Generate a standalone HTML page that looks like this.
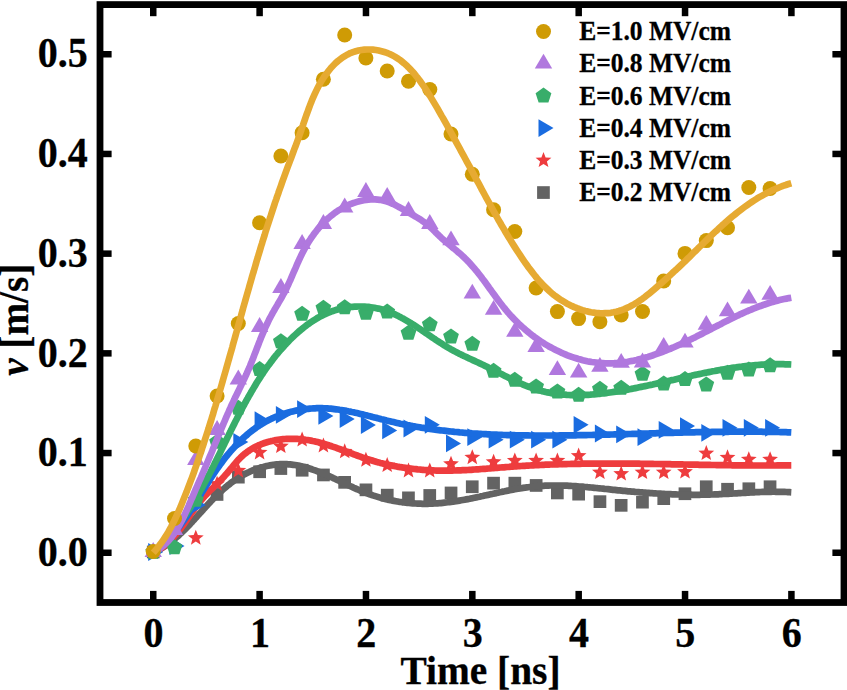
<!DOCTYPE html>
<html><head><meta charset="utf-8"><style>
html,body{margin:0;padding:0;background:#fff;}
svg{display:block;}
text{font-family:"Liberation Serif",serif;font-weight:bold;fill:#000;stroke:#000;stroke-width:0.3px;}
</style></head><body>
<svg width="847" height="690" viewBox="0 0 847 690">
<g><rect x="146.9" y="545.6" width="12.7" height="12.7" fill="#636363"/>
<rect x="210.7" y="488.1" width="12.7" height="12.7" fill="#636363"/>
<rect x="232.0" y="470.8" width="12.7" height="12.7" fill="#636363"/>
<rect x="253.3" y="465.4" width="12.7" height="12.7" fill="#636363"/>
<rect x="274.5" y="462.2" width="12.7" height="12.7" fill="#636363"/>
<rect x="295.8" y="463.9" width="12.7" height="12.7" fill="#636363"/>
<rect x="317.1" y="468.6" width="12.7" height="12.7" fill="#636363"/>
<rect x="338.3" y="476.0" width="12.7" height="12.7" fill="#636363"/>
<rect x="359.6" y="483.5" width="12.7" height="12.7" fill="#636363"/>
<rect x="380.9" y="488.8" width="12.7" height="12.7" fill="#636363"/>
<rect x="402.1" y="491.5" width="12.7" height="12.7" fill="#636363"/>
<rect x="423.4" y="489.1" width="12.7" height="12.7" fill="#636363"/>
<rect x="444.7" y="486.6" width="12.7" height="12.7" fill="#636363"/>
<rect x="465.9" y="480.4" width="12.7" height="12.7" fill="#636363"/>
<rect x="487.2" y="476.8" width="12.7" height="12.7" fill="#636363"/>
<rect x="508.5" y="476.8" width="12.7" height="12.7" fill="#636363"/>
<rect x="529.8" y="479.1" width="12.7" height="12.7" fill="#636363"/>
<rect x="551.0" y="486.6" width="12.7" height="12.7" fill="#636363"/>
<rect x="572.3" y="487.8" width="12.7" height="12.7" fill="#636363"/>
<rect x="593.6" y="495.3" width="12.7" height="12.7" fill="#636363"/>
<rect x="614.8" y="499.0" width="12.7" height="12.7" fill="#636363"/>
<rect x="636.1" y="495.8" width="12.7" height="12.7" fill="#636363"/>
<rect x="657.4" y="492.3" width="12.7" height="12.7" fill="#636363"/>
<rect x="678.6" y="487.4" width="12.7" height="12.7" fill="#636363"/>
<rect x="699.9" y="480.4" width="12.7" height="12.7" fill="#636363"/>
<rect x="721.2" y="482.9" width="12.7" height="12.7" fill="#636363"/>
<rect x="742.5" y="482.4" width="12.7" height="12.7" fill="#636363"/>
<rect x="763.7" y="480.4" width="12.7" height="12.7" fill="#636363"/>
<path d="M153.3,552.8 154.9,552.0 156.4,551.2 157.9,550.4 159.4,549.6 160.9,548.7 162.4,547.8 163.8,546.9 165.2,546.0 166.6,545.0 168.0,544.1 169.4,543.1 170.7,542.1 172.0,541.0 173.4,540.0 174.6,538.9 175.9,537.8 177.2,536.7 178.5,535.6 179.7,534.4 180.9,533.3 182.1,532.1 183.3,531.0 184.5,529.8 185.7,528.6 186.9,527.4 188.1,526.2 189.3,524.9 190.4,523.7 191.6,522.5 192.7,521.2 193.9,520.0 195.0,518.7 196.2,517.5 197.3,516.2 198.4,514.9 199.6,513.7 200.7,512.4 201.8,511.2 203.0,509.9 204.1,508.6 205.3,507.4 206.4,506.1 207.6,504.9 208.7,503.6 209.9,502.4 211.1,501.1 212.2,499.9 213.4,498.7 214.6,497.5 215.8,496.3 217.0,495.1 218.2,493.9 219.5,492.8 220.7,491.6 222.0,490.5 223.2,489.3 224.5,488.2 225.8,487.1 227.1,486.0 228.4,484.9 229.8,483.9 231.1,482.8 232.5,481.8 233.8,480.8 235.2,479.8 236.7,478.9 238.1,478.0 239.5,477.1 241.0,476.2 242.5,475.3 244.0,474.5 245.5,473.7 247.1,472.9 248.7,472.2 250.2,471.5 251.8,470.8 253.4,470.1 255.1,469.5 256.7,468.9 258.3,468.4 260.0,467.8 261.6,467.3 263.3,466.9 265.0,466.4 266.6,466.0 268.3,465.7 270.0,465.4 271.7,465.1 273.4,464.8 275.1,464.6 276.7,464.4 278.4,464.3 280.1,464.2 281.8,464.1 283.5,464.1 285.1,464.1 286.8,464.2 288.4,464.3 290.1,464.4 291.7,464.6 293.4,464.8 295.0,465.0 296.6,465.3 298.3,465.6 299.9,465.9 301.5,466.3 303.1,466.7 304.7,467.1 306.3,467.5 307.9,468.0 309.5,468.5 311.1,469.0 312.7,469.6 314.3,470.1 315.9,470.7 317.5,471.3 319.0,471.9 320.6,472.5 322.2,473.2 323.8,473.9 325.3,474.5 326.9,475.2 328.5,475.9 330.1,476.6 331.6,477.3 333.2,478.1 334.8,478.8 336.3,479.5 337.9,480.3 339.5,481.0 341.0,481.8 342.6,482.5 344.2,483.3 345.8,484.0 347.3,484.7 348.9,485.5 350.5,486.2 352.1,486.9 353.6,487.7 355.2,488.4 356.8,489.1 358.4,489.8 360.0,490.5 361.6,491.1 363.2,491.8 364.8,492.4 366.4,493.0 368.0,493.7 369.6,494.3 371.2,494.8 372.8,495.4 374.4,495.9 376.1,496.4 377.7,496.9 379.3,497.4 380.9,497.9 382.6,498.3 384.2,498.8 385.9,499.2 387.5,499.6 389.2,499.9 390.8,500.3 392.5,500.6 394.1,500.9 395.8,501.2 397.4,501.5 399.1,501.8 400.8,502.0 402.4,502.3 404.1,502.5 405.8,502.7 407.4,502.9 409.1,503.0 410.8,503.2 412.5,503.3 414.1,503.4 415.8,503.5 417.5,503.6 419.2,503.7 420.8,503.7 422.5,503.8 424.2,503.8 425.9,503.8 427.6,503.8 429.2,503.7 430.9,503.7 432.6,503.6 434.3,503.5 436.0,503.4 437.7,503.3 439.3,503.2 441.0,503.1 442.7,502.9 444.4,502.7 446.1,502.5 447.7,502.3 449.4,502.1 451.1,501.9 452.8,501.7 454.4,501.4 456.1,501.2 457.8,500.9 459.5,500.6 461.2,500.3 462.8,500.0 464.5,499.7 466.2,499.4 467.9,499.1 469.5,498.8 471.2,498.4 472.9,498.1 474.6,497.7 476.2,497.4 477.9,497.0 479.6,496.7 481.2,496.3 482.9,496.0 484.6,495.6 486.3,495.2 487.9,494.9 489.6,494.5 491.3,494.1 493.0,493.8 494.6,493.4 496.3,493.1 498.0,492.7 499.7,492.3 501.4,492.0 503.0,491.6 504.7,491.3 506.4,490.9 508.1,490.6 509.7,490.3 511.4,490.0 513.1,489.6 514.8,489.3 516.5,489.0 518.1,488.8 519.8,488.5 521.5,488.2 523.2,487.9 524.9,487.7 526.6,487.4 528.2,487.2 529.9,487.0 531.6,486.8 533.3,486.6 535.0,486.4 536.7,486.3 538.4,486.1 540.0,486.0 541.7,485.9 543.4,485.8 545.1,485.7 546.8,485.6 548.5,485.6 550.2,485.5 551.9,485.5 553.6,485.5 555.3,485.5 557.0,485.5 558.7,485.5 560.4,485.5 562.1,485.6 563.8,485.6 565.5,485.7 567.2,485.7 568.9,485.8 570.6,485.9 572.3,486.0 574.0,486.1 575.7,486.2 577.4,486.3 579.1,486.5 580.8,486.6 582.5,486.7 584.2,486.9 585.9,487.0 587.6,487.2 589.3,487.3 591.0,487.5 592.7,487.6 594.4,487.8 596.1,488.0 597.8,488.2 599.5,488.3 601.2,488.5 602.9,488.7 604.6,488.9 606.3,489.0 608.0,489.2 609.7,489.4 611.4,489.6 613.1,489.8 614.8,489.9 616.4,490.1 618.1,490.3 619.8,490.4 621.5,490.6 623.2,490.8 624.9,490.9 626.6,491.1 628.3,491.3 630.0,491.4 631.7,491.6 633.4,491.7 635.1,491.9 636.8,492.0 638.5,492.1 640.2,492.3 641.9,492.4 643.6,492.6 645.2,492.7 646.9,492.8 648.6,492.9 650.3,493.1 652.0,493.2 653.7,493.3 655.4,493.4 657.1,493.5 658.8,493.6 660.5,493.7 662.2,493.8 663.9,493.9 665.5,494.0 667.2,494.1 668.9,494.1 670.6,494.2 672.3,494.3 674.0,494.3 675.7,494.4 677.4,494.5 679.1,494.5 680.8,494.6 682.5,494.6 684.2,494.6 685.9,494.7 687.6,494.7 689.2,494.7 690.9,494.7 692.6,494.8 694.3,494.8 696.0,494.8 697.7,494.8 699.4,494.8 701.1,494.7 702.8,494.7 704.5,494.7 706.2,494.7 707.9,494.6 709.6,494.6 711.3,494.5 713.0,494.5 714.7,494.4 716.4,494.4 718.1,494.3 719.8,494.2 721.5,494.1 723.2,494.0 724.9,494.0 726.6,493.9 728.3,493.8 730.0,493.7 731.7,493.6 733.4,493.5 735.2,493.4 736.9,493.3 738.6,493.2 740.3,493.1 742.0,493.0 743.7,492.9 745.4,492.8 747.1,492.7 748.8,492.6 750.5,492.5 752.2,492.4 753.9,492.3 755.6,492.2 757.3,492.1 759.0,492.1 760.7,492.0 762.4,491.9 764.1,491.9 765.8,491.8 767.5,491.8 769.2,491.8 770.9,491.8 772.6,491.7 774.3,491.7 776.0,491.8 777.7,491.8 779.4,491.8 781.1,491.8 782.8,491.9 784.5,491.9 786.2,492.0 787.9,492.1 789.6,492.2 791.3,492.3" fill="none" stroke="#636363" stroke-width="6.7" stroke-linejoin="round"/>
<polygon points="153.2,543.7 155.4,549.1 161.1,549.4 156.7,553.1 158.1,558.7 153.2,555.6 148.4,558.7 149.8,553.1 145.4,549.4 151.1,549.1" fill="#EE3C3E"/>
<polygon points="195.8,529.7 197.9,535.1 203.7,535.4 199.2,539.1 200.7,544.7 195.8,541.6 190.9,544.7 192.4,539.1 187.9,535.4 193.7,535.1" fill="#EE3C3E"/>
<polygon points="217.1,475.7 219.2,481.1 225.0,481.4 220.5,485.1 221.9,490.7 217.1,487.6 212.2,490.7 213.6,485.1 209.2,481.4 214.9,481.1" fill="#EE3C3E"/>
<polygon points="238.3,462.4 240.4,467.8 246.2,468.1 241.8,471.8 243.2,477.4 238.3,474.3 233.5,477.4 234.9,471.8 230.4,468.1 236.2,467.8" fill="#EE3C3E"/>
<polygon points="259.6,444.4 261.7,449.8 267.5,450.1 263.0,453.8 264.5,459.4 259.6,456.3 254.7,459.4 256.2,453.8 251.7,450.1 257.5,449.8" fill="#EE3C3E"/>
<polygon points="280.9,438.0 283.0,443.4 288.8,443.7 284.3,447.4 285.7,453.0 280.9,449.9 276.0,453.0 277.4,447.4 273.0,443.7 278.8,443.4" fill="#EE3C3E"/>
<polygon points="302.1,431.6 304.3,437.0 310.0,437.3 305.6,441.0 307.0,446.6 302.1,443.5 297.3,446.6 298.7,441.0 294.2,437.3 300.0,437.0" fill="#EE3C3E"/>
<polygon points="323.4,437.4 325.5,442.8 331.3,443.1 326.8,446.8 328.3,452.4 323.4,449.3 318.5,452.4 320.0,446.8 315.5,443.1 321.3,442.8" fill="#EE3C3E"/>
<polygon points="344.7,443.3 346.8,448.7 352.6,449.0 348.1,452.7 349.6,458.3 344.7,455.2 339.8,458.3 341.3,452.7 336.8,449.0 342.6,448.7" fill="#EE3C3E"/>
<polygon points="365.9,451.8 368.1,457.2 373.8,457.5 369.4,461.2 370.8,466.8 365.9,463.7 361.1,466.8 362.5,461.2 358.1,457.5 363.8,457.2" fill="#EE3C3E"/>
<polygon points="387.2,457.1 389.3,462.5 395.1,462.8 390.6,466.5 392.1,472.1 387.2,469.0 382.3,472.1 383.8,466.5 379.3,462.8 385.1,462.5" fill="#EE3C3E"/>
<polygon points="408.5,462.4 410.6,467.8 416.4,468.1 411.9,471.8 413.4,477.4 408.5,474.3 403.6,477.4 405.1,471.8 400.6,468.1 406.4,467.8" fill="#EE3C3E"/>
<polygon points="429.8,462.4 431.9,467.8 437.7,468.1 433.2,471.8 434.6,477.4 429.8,474.3 424.9,477.4 426.3,471.8 421.9,468.1 427.6,467.8" fill="#EE3C3E"/>
<polygon points="451.0,455.7 453.1,461.1 458.9,461.4 454.5,465.1 455.9,470.7 451.0,467.6 446.2,470.7 447.6,465.1 443.1,461.4 448.9,461.1" fill="#EE3C3E"/>
<polygon points="472.3,449.2 474.4,454.6 480.2,454.9 475.7,458.6 477.2,464.2 472.3,461.1 467.4,464.2 468.9,458.6 464.4,454.9 470.2,454.6" fill="#EE3C3E"/>
<polygon points="493.6,453.7 495.7,459.1 501.5,459.4 497.0,463.1 498.4,468.7 493.6,465.6 488.7,468.7 490.1,463.1 485.7,459.4 491.5,459.1" fill="#EE3C3E"/>
<polygon points="514.8,452.4 517.0,457.8 522.7,458.1 518.3,461.8 519.7,467.4 514.8,464.3 510.0,467.4 511.4,461.8 506.9,458.1 512.7,457.8" fill="#EE3C3E"/>
<polygon points="536.1,452.4 538.2,457.8 544.0,458.1 539.5,461.8 541.0,467.4 536.1,464.3 531.2,467.4 532.7,461.8 528.2,458.1 534.0,457.8" fill="#EE3C3E"/>
<polygon points="557.4,452.4 559.5,457.8 565.3,458.1 560.8,461.8 562.3,467.4 557.4,464.3 552.5,467.4 554.0,461.8 549.5,458.1 555.3,457.8" fill="#EE3C3E"/>
<polygon points="578.6,447.5 580.8,452.9 586.5,453.2 582.1,456.9 583.5,462.5 578.6,459.4 573.8,462.5 575.2,456.9 570.8,453.2 576.5,452.9" fill="#EE3C3E"/>
<polygon points="599.9,464.1 602.0,469.5 607.8,469.8 603.3,473.5 604.8,479.1 599.9,476.0 595.0,479.1 596.5,473.5 592.0,469.8 597.8,469.5" fill="#EE3C3E"/>
<polygon points="621.2,465.6 623.3,471.0 629.1,471.3 624.6,475.0 626.1,480.6 621.2,477.5 616.3,480.6 617.8,475.0 613.3,471.3 619.1,471.0" fill="#EE3C3E"/>
<polygon points="642.5,464.1 644.6,469.5 650.4,469.8 645.9,473.5 647.3,479.1 642.5,476.0 637.6,479.1 639.0,473.5 634.6,469.8 640.3,469.5" fill="#EE3C3E"/>
<polygon points="663.7,464.1 665.8,469.5 671.6,469.8 667.2,473.5 668.6,479.1 663.7,476.0 658.9,479.1 660.3,473.5 655.8,469.8 661.6,469.5" fill="#EE3C3E"/>
<polygon points="685.0,463.6 687.1,469.0 692.9,469.3 688.4,473.0 689.9,478.6 685.0,475.5 680.1,478.6 681.6,473.0 677.1,469.3 682.9,469.0" fill="#EE3C3E"/>
<polygon points="706.3,445.1 708.4,450.5 714.2,450.8 709.7,454.5 711.1,460.1 706.3,457.0 701.4,460.1 702.8,454.5 698.4,450.8 704.2,450.5" fill="#EE3C3E"/>
<polygon points="727.5,449.3 729.7,454.7 735.4,455.0 731.0,458.7 732.4,464.3 727.5,461.2 722.7,464.3 724.1,458.7 719.6,455.0 725.4,454.7" fill="#EE3C3E"/>
<polygon points="748.8,451.2 750.9,456.6 756.7,456.9 752.2,460.6 753.7,466.2 748.8,463.1 743.9,466.2 745.4,460.6 740.9,456.9 746.7,456.6" fill="#EE3C3E"/>
<polygon points="770.1,451.2 772.2,456.6 778.0,456.9 773.5,460.6 775.0,466.2 770.1,463.1 765.2,466.2 766.7,460.6 762.2,456.9 768.0,456.6" fill="#EE3C3E"/>
<path d="M153.3,552.8 154.9,552.0 156.5,551.1 158.0,550.3 159.5,549.4 160.9,548.4 162.3,547.4 163.7,546.4 165.1,545.4 166.4,544.3 167.6,543.2 168.9,542.0 170.1,540.9 171.3,539.7 172.5,538.4 173.6,537.2 174.7,535.9 175.8,534.6 176.9,533.3 178.0,532.0 179.0,530.7 180.0,529.3 181.1,528.0 182.1,526.6 183.1,525.2 184.1,523.8 185.1,522.4 186.0,521.0 187.0,519.6 188.0,518.1 189.0,516.7 190.0,515.3 190.9,513.9 191.9,512.5 192.9,511.1 193.9,509.7 194.9,508.3 196.0,506.9 197.0,505.5 198.0,504.1 199.1,502.8 200.2,501.4 201.3,500.1 202.4,498.8 203.5,497.5 204.7,496.2 205.9,495.0 207.1,493.7 208.3,492.5 209.5,491.2 210.7,490.0 212.0,488.8 213.2,487.6 214.4,486.4 215.7,485.2 216.9,483.9 218.2,482.7 219.4,481.5 220.6,480.2 221.8,479.0 223.0,477.7 224.2,476.4 225.4,475.1 226.6,473.8 227.7,472.5 228.8,471.2 230.0,469.8 231.1,468.4 232.2,467.1 233.3,465.7 234.4,464.4 235.5,463.1 236.7,461.7 237.8,460.4 239.0,459.2 240.2,457.9 241.4,456.8 242.6,455.6 243.9,454.5 245.2,453.4 246.6,452.4 247.9,451.4 249.3,450.4 250.8,449.5 252.2,448.6 253.7,447.8 255.2,447.0 256.7,446.2 258.2,445.5 259.8,444.9 261.3,444.2 262.9,443.6 264.5,443.0 266.2,442.5 267.8,442.0 269.5,441.6 271.1,441.1 272.8,440.8 274.5,440.4 276.2,440.1 277.9,439.8 279.6,439.6 281.4,439.4 283.1,439.2 284.8,439.0 286.6,438.9 288.3,438.8 290.1,438.8 291.8,438.8 293.6,438.8 295.3,438.8 297.1,438.9 298.8,439.0 300.6,439.2 302.3,439.3 304.0,439.5 305.7,439.8 307.5,440.0 309.2,440.3 310.9,440.6 312.6,441.0 314.3,441.3 316.0,441.7 317.6,442.1 319.3,442.5 321.0,443.0 322.7,443.4 324.3,443.9 326.0,444.4 327.6,444.9 329.3,445.5 330.9,446.0 332.6,446.6 334.2,447.1 335.9,447.7 337.5,448.3 339.1,448.9 340.8,449.5 342.4,450.1 344.0,450.7 345.7,451.3 347.3,451.9 348.9,452.5 350.6,453.1 352.2,453.7 353.8,454.3 355.5,454.9 357.1,455.5 358.7,456.1 360.4,456.7 362.0,457.3 363.7,457.9 365.3,458.4 367.0,459.0 368.6,459.5 370.3,460.0 371.9,460.5 373.6,461.0 375.2,461.5 376.9,462.0 378.6,462.4 380.3,462.9 381.9,463.3 383.6,463.7 385.3,464.1 387.0,464.5 388.7,464.9 390.4,465.2 392.0,465.6 393.7,465.9 395.4,466.2 397.1,466.6 398.8,466.9 400.5,467.2 402.2,467.4 403.9,467.7 405.6,467.9 407.4,468.2 409.1,468.4 410.8,468.6 412.5,468.8 414.2,469.0 415.9,469.2 417.6,469.4 419.4,469.5 421.1,469.7 422.8,469.8 424.5,470.0 426.2,470.1 428.0,470.2 429.7,470.3 431.4,470.4 433.1,470.4 434.9,470.5 436.6,470.6 438.3,470.6 440.0,470.6 441.8,470.6 443.5,470.7 445.2,470.7 446.9,470.7 448.7,470.6 450.4,470.6 452.1,470.6 453.9,470.5 455.6,470.5 457.3,470.4 459.0,470.4 460.8,470.3 462.5,470.2 464.2,470.1 466.0,470.1 467.7,470.0 469.4,469.9 471.1,469.8 472.9,469.6 474.6,469.5 476.3,469.4 478.1,469.3 479.8,469.2 481.5,469.0 483.2,468.9 485.0,468.8 486.7,468.7 488.4,468.5 490.2,468.4 491.9,468.2 493.6,468.1 495.4,468.0 497.1,467.8 498.8,467.7 500.5,467.5 502.3,467.4 504.0,467.3 505.7,467.1 507.5,467.0 509.2,466.9 510.9,466.7 512.7,466.6 514.4,466.5 516.1,466.4 517.8,466.2 519.6,466.1 521.3,466.0 523.0,465.9 524.8,465.8 526.5,465.7 528.2,465.6 530.0,465.5 531.7,465.4 533.4,465.3 535.1,465.2 536.9,465.1 538.6,465.1 540.3,465.0 542.1,464.9 543.8,464.8 545.5,464.7 547.3,464.7 549.0,464.6 550.7,464.5 552.4,464.5 554.2,464.4 555.9,464.4 557.6,464.3 559.4,464.2 561.1,464.2 562.8,464.1 564.6,464.1 566.3,464.1 568.0,464.0 569.7,464.0 571.5,463.9 573.2,463.9 574.9,463.9 576.7,463.8 578.4,463.8 580.1,463.8 581.9,463.7 583.6,463.7 585.3,463.7 587.0,463.7 588.8,463.7 590.5,463.6 592.2,463.6 594.0,463.6 595.7,463.6 597.4,463.6 599.2,463.6 600.9,463.6 602.6,463.6 604.3,463.6 606.1,463.6 607.8,463.6 609.5,463.6 611.3,463.6 613.0,463.6 614.7,463.6 616.5,463.6 618.2,463.6 619.9,463.6 621.7,463.6 623.4,463.6 625.1,463.6 626.8,463.6 628.6,463.6 630.3,463.7 632.0,463.7 633.8,463.7 635.5,463.7 637.2,463.7 639.0,463.7 640.7,463.8 642.4,463.8 644.1,463.8 645.9,463.8 647.6,463.9 649.3,463.9 651.1,463.9 652.8,463.9 654.5,464.0 656.3,464.0 658.0,464.0 659.7,464.0 661.5,464.1 663.2,464.1 664.9,464.1 666.6,464.2 668.4,464.2 670.1,464.2 671.8,464.3 673.6,464.3 675.3,464.3 677.0,464.3 678.8,464.4 680.5,464.4 682.2,464.4 684.0,464.5 685.7,464.5 687.4,464.5 689.1,464.6 690.9,464.6 692.6,464.6 694.3,464.7 696.1,464.7 697.8,464.7 699.5,464.8 701.3,464.8 703.0,464.8 704.7,464.8 706.5,464.9 708.2,464.9 709.9,464.9 711.6,465.0 713.4,465.0 715.1,465.0 716.8,465.1 718.6,465.1 720.3,465.1 722.0,465.1 723.8,465.2 725.5,465.2 727.2,465.2 729.0,465.2 730.7,465.2 732.4,465.3 734.2,465.3 735.9,465.3 737.6,465.3 739.3,465.3 741.1,465.4 742.8,465.4 744.5,465.4 746.3,465.4 748.0,465.4 749.7,465.4 751.5,465.4 753.2,465.5 754.9,465.5 756.7,465.5 758.4,465.5 760.1,465.5 761.9,465.5 763.6,465.5 765.3,465.5 767.1,465.5 768.8,465.5 770.5,465.5 772.2,465.5 774.0,465.5 775.7,465.5 777.4,465.4 779.2,465.4 780.9,465.4 782.6,465.4 784.4,465.4 786.1,465.4 787.8,465.3 789.6,465.3 791.3,465.3" fill="none" stroke="#EE3C3E" stroke-width="6.7" stroke-linejoin="round"/>
<path d="M163.2,552.0L148.2,543.1L148.2,560.9Z" fill="#1A6CE0"/>
<path d="M184.5,546.0L169.5,537.1L169.5,554.9Z" fill="#1A6CE0"/>
<path d="M205.8,505.0L190.8,496.1L190.8,513.9Z" fill="#1A6CE0"/>
<path d="M248.3,442.0L233.3,433.1L233.3,450.9Z" fill="#1A6CE0"/>
<path d="M269.6,420.2L254.6,411.3L254.6,429.1Z" fill="#1A6CE0"/>
<path d="M290.9,414.9L275.9,406.0L275.9,423.8Z" fill="#1A6CE0"/>
<path d="M312.1,409.1L297.1,400.2L297.1,418.0Z" fill="#1A6CE0"/>
<path d="M333.4,415.9L318.4,407.0L318.4,424.8Z" fill="#1A6CE0"/>
<path d="M354.7,419.1L339.7,410.2L339.7,428.0Z" fill="#1A6CE0"/>
<path d="M375.9,425.1L360.9,416.2L360.9,434.0Z" fill="#1A6CE0"/>
<path d="M397.2,430.4L382.2,421.5L382.2,439.2Z" fill="#1A6CE0"/>
<path d="M418.5,428.5L403.5,419.6L403.5,437.4Z" fill="#1A6CE0"/>
<path d="M439.8,424.8L424.8,415.9L424.8,433.7Z" fill="#1A6CE0"/>
<path d="M461.0,443.4L446.0,434.5L446.0,452.2Z" fill="#1A6CE0"/>
<path d="M482.3,437.2L467.3,428.3L467.3,446.1Z" fill="#1A6CE0"/>
<path d="M503.6,439.7L488.6,430.8L488.6,448.6Z" fill="#1A6CE0"/>
<path d="M524.8,439.7L509.8,430.8L509.8,448.6Z" fill="#1A6CE0"/>
<path d="M546.1,439.7L531.1,430.8L531.1,448.6Z" fill="#1A6CE0"/>
<path d="M567.4,439.7L552.4,430.8L552.4,448.6Z" fill="#1A6CE0"/>
<path d="M588.6,424.8L573.6,415.9L573.6,433.7Z" fill="#1A6CE0"/>
<path d="M609.9,433.5L594.9,424.6L594.9,442.4Z" fill="#1A6CE0"/>
<path d="M631.2,434.3L616.2,425.4L616.2,443.2Z" fill="#1A6CE0"/>
<path d="M652.5,437.2L637.5,428.3L637.5,446.1Z" fill="#1A6CE0"/>
<path d="M673.7,429.8L658.7,420.9L658.7,438.7Z" fill="#1A6CE0"/>
<path d="M695.0,426.1L680.0,417.2L680.0,435.0Z" fill="#1A6CE0"/>
<path d="M716.3,432.8L701.3,423.9L701.3,441.7Z" fill="#1A6CE0"/>
<path d="M737.5,427.8L722.5,418.9L722.5,436.7Z" fill="#1A6CE0"/>
<path d="M758.8,427.8L743.8,418.9L743.8,436.7Z" fill="#1A6CE0"/>
<path d="M780.1,427.8L765.1,418.9L765.1,436.7Z" fill="#1A6CE0"/>
<path d="M153.3,552.7 154.7,551.7 156.1,550.6 157.5,549.5 158.9,548.4 160.2,547.2 161.5,546.1 162.8,544.9 164.1,543.7 165.4,542.5 166.6,541.3 167.8,540.0 169.0,538.8 170.2,537.5 171.4,536.2 172.5,534.9 173.7,533.6 174.8,532.2 175.9,530.9 177.0,529.5 178.1,528.1 179.2,526.8 180.2,525.4 181.3,524.0 182.3,522.5 183.3,521.1 184.4,519.7 185.4,518.2 186.4,516.8 187.4,515.3 188.4,513.8 189.3,512.4 190.3,510.9 191.3,509.4 192.2,507.9 193.2,506.4 194.2,504.9 195.1,503.4 196.1,501.9 197.0,500.4 197.9,498.8 198.9,497.3 199.8,495.8 200.8,494.3 201.7,492.7 202.7,491.2 203.6,489.7 204.6,488.2 205.5,486.6 206.5,485.1 207.4,483.6 208.4,482.1 209.3,480.5 210.3,479.0 211.3,477.5 212.3,476.0 213.3,474.5 214.3,473.0 215.3,471.5 216.3,470.0 217.3,468.5 218.4,467.0 219.4,465.6 220.5,464.1 221.5,462.7 222.6,461.2 223.7,459.8 224.8,458.3 225.9,456.9 227.1,455.5 228.2,454.1 229.3,452.8 230.5,451.4 231.7,450.0 232.9,448.7 234.1,447.4 235.3,446.0 236.5,444.7 237.7,443.5 239.0,442.2 240.2,440.9 241.5,439.7 242.8,438.5 244.1,437.3 245.4,436.1 246.8,435.0 248.1,433.8 249.4,432.7 250.8,431.6 252.2,430.5 253.6,429.5 255.0,428.5 256.4,427.4 257.9,426.5 259.3,425.5 260.8,424.6 262.3,423.7 263.7,422.8 265.3,421.9 266.8,421.1 268.3,420.3 269.9,419.5 271.4,418.8 273.0,418.0 274.6,417.3 276.2,416.7 277.8,416.0 279.4,415.4 281.0,414.8 282.7,414.2 284.3,413.7 286.0,413.2 287.6,412.7 289.3,412.2 291.0,411.8 292.7,411.4 294.4,411.0 296.1,410.6 297.8,410.3 299.5,410.0 301.2,409.7 302.9,409.4 304.7,409.2 306.4,409.0 308.1,408.8 309.9,408.6 311.6,408.5 313.3,408.4 315.1,408.3 316.8,408.2 318.6,408.2 320.3,408.2 322.1,408.2 323.8,408.3 325.6,408.4 327.3,408.4 329.1,408.6 330.8,408.7 332.6,408.9 334.3,409.1 336.1,409.3 337.8,409.5 339.6,409.8 341.3,410.0 343.0,410.3 344.8,410.6 346.5,410.9 348.3,411.3 350.0,411.6 351.7,412.0 353.5,412.3 355.2,412.7 357.0,413.1 358.7,413.5 360.4,413.9 362.2,414.3 363.9,414.8 365.7,415.2 367.4,415.6 369.1,416.1 370.9,416.5 372.6,417.0 374.4,417.4 376.1,417.8 377.8,418.3 379.6,418.7 381.3,419.2 383.0,419.6 384.8,420.0 386.5,420.5 388.3,420.9 390.0,421.3 391.7,421.7 393.5,422.1 395.2,422.5 397.0,422.9 398.7,423.3 400.4,423.7 402.2,424.0 403.9,424.4 405.7,424.7 407.4,425.1 409.1,425.4 410.9,425.7 412.6,426.1 414.4,426.4 416.1,426.7 417.8,427.0 419.6,427.3 421.3,427.6 423.1,427.8 424.8,428.1 426.6,428.4 428.3,428.6 430.0,428.9 431.8,429.2 433.5,429.4 435.3,429.6 437.0,429.9 438.8,430.1 440.5,430.3 442.3,430.5 444.0,430.7 445.8,430.9 447.5,431.1 449.3,431.3 451.0,431.5 452.7,431.7 454.5,431.9 456.2,432.0 458.0,432.2 459.7,432.4 461.5,432.5 463.2,432.7 465.0,432.8 466.7,433.0 468.5,433.1 470.2,433.2 472.0,433.4 473.7,433.5 475.5,433.6 477.2,433.7 479.0,433.8 480.7,433.9 482.5,434.0 484.2,434.1 486.0,434.2 487.8,434.3 489.5,434.4 491.3,434.5 493.0,434.6 494.8,434.6 496.5,434.7 498.3,434.8 500.0,434.8 501.8,434.9 503.5,435.0 505.3,435.0 507.1,435.1 508.8,435.1 510.6,435.2 512.3,435.2 514.1,435.2 515.8,435.3 517.6,435.3 519.3,435.3 521.1,435.4 522.9,435.4 524.6,435.4 526.4,435.4 528.1,435.4 529.9,435.5 531.7,435.5 533.4,435.5 535.2,435.5 536.9,435.5 538.7,435.5 540.5,435.5 542.2,435.5 544.0,435.5 545.7,435.5 547.5,435.5 549.3,435.5 551.0,435.5 552.8,435.5 554.6,435.5 556.3,435.5 558.1,435.5 559.9,435.4 561.6,435.4 563.4,435.4 565.1,435.4 566.9,435.4 568.7,435.3 570.4,435.3 572.2,435.3 574.0,435.3 575.7,435.3 577.5,435.2 579.3,435.2 581.0,435.2 582.8,435.1 584.6,435.1 586.3,435.1 588.1,435.0 589.9,435.0 591.6,435.0 593.4,434.9 595.2,434.9 596.9,434.8 598.7,434.8 600.5,434.8 602.2,434.7 604.0,434.7 605.8,434.6 607.6,434.6 609.3,434.6 611.1,434.5 612.9,434.5 614.6,434.4 616.4,434.4 618.2,434.3 619.9,434.3 621.7,434.2 623.5,434.2 625.2,434.1 627.0,434.1 628.8,434.0 630.6,434.0 632.3,433.9 634.1,433.9 635.9,433.8 637.6,433.8 639.4,433.7 641.2,433.7 642.9,433.6 644.7,433.6 646.5,433.5 648.3,433.5 650.0,433.4 651.8,433.4 653.6,433.3 655.3,433.3 657.1,433.2 658.9,433.2 660.6,433.1 662.4,433.1 664.2,433.0 666.0,433.0 667.7,432.9 669.5,432.9 671.3,432.8 673.0,432.8 674.8,432.7 676.6,432.7 678.3,432.7 680.1,432.6 681.9,432.6 683.7,432.5 685.4,432.5 687.2,432.4 689.0,432.4 690.7,432.4 692.5,432.3 694.3,432.3 696.0,432.2 697.8,432.2 699.6,432.2 701.3,432.1 703.1,432.1 704.9,432.1 706.7,432.0 708.4,432.0 710.2,432.0 712.0,431.9 713.7,431.9 715.5,431.9 717.3,431.9 719.0,431.8 720.8,431.8 722.6,431.8 724.3,431.8 726.1,431.8 727.9,431.8 729.6,431.7 731.4,431.7 733.2,431.7 734.9,431.7 736.7,431.7 738.5,431.7 740.2,431.7 742.0,431.7 743.7,431.7 745.5,431.7 747.3,431.7 749.0,431.7 750.8,431.7 752.6,431.7 754.3,431.7 756.1,431.7 757.9,431.7 759.6,431.7 761.4,431.7 763.1,431.8 764.9,431.8 766.7,431.8 768.4,431.8 770.2,431.9 771.9,431.9 773.7,431.9 775.5,432.0 777.2,432.0 779.0,432.0 780.7,432.1 782.5,432.1 784.3,432.2 786.0,432.2 787.8,432.3 789.5,432.3 791.3,432.4" fill="none" stroke="#1A6CE0" stroke-width="6.7" stroke-linejoin="round"/>
<polygon points="153.2,543.7 161.1,549.4 158.1,558.7 148.4,558.7 145.4,549.4" fill="#38AD6A"/>
<polygon points="174.5,539.2 182.4,544.9 179.4,554.2 169.6,554.2 166.6,544.9" fill="#38AD6A"/>
<polygon points="195.8,491.7 203.7,497.4 200.7,506.7 190.9,506.7 187.9,497.4" fill="#38AD6A"/>
<polygon points="217.1,433.7 225.0,439.4 221.9,448.7 212.2,448.7 209.2,439.4" fill="#38AD6A"/>
<polygon points="238.3,399.7 246.2,405.4 243.2,414.7 233.5,414.7 230.4,405.4" fill="#38AD6A"/>
<polygon points="259.6,361.0 267.5,366.7 264.5,376.0 254.7,376.0 251.7,366.7" fill="#38AD6A"/>
<polygon points="280.9,333.3 288.8,339.0 285.7,348.3 276.0,348.3 273.0,339.0" fill="#38AD6A"/>
<polygon points="302.1,305.7 310.0,311.4 307.0,320.7 297.3,320.7 294.2,311.4" fill="#38AD6A"/>
<polygon points="323.4,299.7 331.3,305.4 328.3,314.7 318.5,314.7 315.5,305.4" fill="#38AD6A"/>
<polygon points="344.7,299.3 352.6,305.0 349.6,314.3 339.8,314.3 336.8,305.0" fill="#38AD6A"/>
<polygon points="365.9,304.7 373.8,310.4 370.8,319.7 361.1,319.7 358.1,310.4" fill="#38AD6A"/>
<polygon points="387.2,303.6 395.1,309.3 392.1,318.6 382.3,318.6 379.3,309.3" fill="#38AD6A"/>
<polygon points="408.5,324.8 416.4,330.5 413.4,339.8 403.6,339.8 400.6,330.5" fill="#38AD6A"/>
<polygon points="429.8,316.3 437.7,322.0 434.6,331.3 424.9,331.3 421.9,322.0" fill="#38AD6A"/>
<polygon points="451.0,328.4 458.9,334.1 455.9,343.4 446.2,343.4 443.1,334.1" fill="#38AD6A"/>
<polygon points="472.3,335.7 480.2,341.4 477.2,350.7 467.4,350.7 464.4,341.4" fill="#38AD6A"/>
<polygon points="493.6,362.7 501.5,368.4 498.4,377.7 488.7,377.7 485.7,368.4" fill="#38AD6A"/>
<polygon points="514.8,371.7 522.7,377.4 519.7,386.7 510.0,386.7 506.9,377.4" fill="#38AD6A"/>
<polygon points="536.1,378.4 544.0,384.1 541.0,393.4 531.2,393.4 528.2,384.1" fill="#38AD6A"/>
<polygon points="557.4,383.4 565.3,389.1 562.3,398.4 552.5,398.4 549.5,389.1" fill="#38AD6A"/>
<polygon points="578.6,386.7 586.5,392.4 583.5,401.7 573.8,401.7 570.8,392.4" fill="#38AD6A"/>
<polygon points="599.9,380.7 607.8,386.4 604.8,395.7 595.0,395.7 592.0,386.4" fill="#38AD6A"/>
<polygon points="621.2,379.7 629.1,385.4 626.1,394.7 616.3,394.7 613.3,385.4" fill="#38AD6A"/>
<polygon points="642.5,365.8 650.4,371.5 647.3,380.8 637.6,380.8 634.6,371.5" fill="#38AD6A"/>
<polygon points="663.7,375.4 671.6,381.1 668.6,390.4 658.9,390.4 655.8,381.1" fill="#38AD6A"/>
<polygon points="685.0,371.1 692.9,376.8 689.9,386.1 680.1,386.1 677.1,376.8" fill="#38AD6A"/>
<polygon points="706.3,376.4 714.2,382.1 711.1,391.4 701.4,391.4 698.4,382.1" fill="#38AD6A"/>
<polygon points="727.5,364.8 735.4,370.5 732.4,379.8 722.7,379.8 719.6,370.5" fill="#38AD6A"/>
<polygon points="748.8,361.6 756.7,367.3 753.7,376.6 743.9,376.6 740.9,367.3" fill="#38AD6A"/>
<polygon points="770.1,357.3 778.0,363.0 775.0,372.3 765.2,372.3 762.2,363.0" fill="#38AD6A"/>
<path d="M153.3,552.7 154.8,551.4 156.2,550.0 157.7,548.6 159.1,547.2 160.5,545.8 161.9,544.3 163.2,542.9 164.6,541.4 165.9,540.0 167.2,538.5 168.5,537.0 169.8,535.5 171.1,534.0 172.3,532.4 173.6,530.9 174.8,529.4 176.0,527.8 177.2,526.3 178.4,524.7 179.6,523.1 180.8,521.5 181.9,519.9 183.1,518.3 184.2,516.7 185.3,515.1 186.4,513.5 187.5,511.8 188.6,510.2 189.6,508.5 190.7,506.9 191.8,505.2 192.8,503.5 193.8,501.8 194.9,500.1 195.9,498.5 196.9,496.8 197.9,495.1 198.9,493.3 199.8,491.6 200.8,489.9 201.8,488.2 202.7,486.5 203.7,484.7 204.6,483.0 205.6,481.2 206.5,479.5 207.4,477.7 208.4,476.0 209.3,474.2 210.2,472.5 211.1,470.7 212.0,468.9 212.9,467.2 213.8,465.4 214.7,463.6 215.6,461.8 216.5,460.1 217.3,458.3 218.2,456.5 219.1,454.7 220.0,452.9 220.9,451.1 221.7,449.3 222.6,447.6 223.5,445.8 224.4,444.0 225.2,442.2 226.1,440.4 227.0,438.6 227.8,436.8 228.7,435.1 229.6,433.3 230.5,431.5 231.3,429.7 232.2,427.9 233.1,426.1 234.0,424.4 234.9,422.6 235.8,420.8 236.7,419.1 237.6,417.3 238.5,415.5 239.4,413.8 240.3,412.0 241.2,410.2 242.1,408.5 243.0,406.8 244.0,405.0 244.9,403.3 245.9,401.5 246.8,399.8 247.8,398.1 248.7,396.4 249.7,394.7 250.7,393.0 251.7,391.2 252.7,389.6 253.7,387.9 254.7,386.2 255.7,384.5 256.7,382.8 257.7,381.2 258.8,379.5 259.9,377.9 260.9,376.2 262.0,374.6 263.1,373.0 264.2,371.3 265.3,369.7 266.4,368.1 267.5,366.5 268.7,365.0 269.9,363.4 271.0,361.8 272.2,360.3 273.4,358.7 274.6,357.2 275.8,355.6 277.1,354.1 278.3,352.6 279.6,351.1 280.9,349.6 282.2,348.2 283.5,346.7 284.8,345.2 286.2,343.8 287.5,342.4 288.9,340.9 290.3,339.5 291.7,338.1 293.1,336.8 294.6,335.4 296.0,334.1 297.5,332.7 299.0,331.4 300.5,330.1 302.1,328.8 303.6,327.6 305.2,326.4 306.8,325.1 308.4,324.0 310.0,322.8 311.6,321.7 313.3,320.6 315.0,319.6 316.7,318.5 318.4,317.5 320.1,316.6 321.9,315.7 323.7,314.8 325.5,313.9 327.3,313.1 329.1,312.4 331.0,311.6 332.9,311.0 334.8,310.4 336.7,309.8 338.6,309.2 340.6,308.8 342.6,308.3 344.5,307.9 346.5,307.6 348.5,307.3 350.5,307.0 352.6,306.8 354.6,306.7 356.6,306.6 358.6,306.5 360.6,306.5 362.6,306.5 364.6,306.6 366.6,306.8 368.6,306.9 370.6,307.2 372.6,307.5 374.5,307.8 376.4,308.2 378.4,308.6 380.3,309.1 382.1,309.6 384.0,310.2 385.8,310.8 387.7,311.4 389.5,312.1 391.3,312.8 393.1,313.6 394.9,314.4 396.6,315.2 398.4,316.1 400.1,317.0 401.8,317.9 403.6,318.8 405.3,319.8 407.0,320.8 408.7,321.8 410.4,322.8 412.0,323.9 413.7,324.9 415.4,326.0 417.0,327.1 418.7,328.2 420.3,329.3 422.0,330.4 423.6,331.5 425.3,332.7 426.9,333.8 428.6,334.9 430.2,336.0 431.9,337.2 433.5,338.3 435.2,339.4 436.8,340.5 438.5,341.6 440.1,342.7 441.8,343.7 443.4,344.8 445.1,345.8 446.8,346.9 448.5,347.9 450.2,348.8 451.9,349.8 453.6,350.7 455.3,351.6 457.0,352.5 458.7,353.4 460.5,354.3 462.2,355.1 463.9,356.0 465.7,356.8 467.5,357.6 469.2,358.5 471.0,359.3 472.8,360.1 474.5,360.9 476.3,361.7 478.1,362.5 479.9,363.4 481.6,364.2 483.4,365.0 485.2,365.9 487.0,366.8 488.8,367.7 490.6,368.5 492.4,369.5 494.2,370.4 496.0,371.3 497.8,372.2 499.6,373.1 501.4,374.1 503.2,375.0 505.0,375.9 506.8,376.8 508.6,377.7 510.4,378.6 512.2,379.5 514.1,380.4 515.9,381.3 517.7,382.1 519.6,383.0 521.4,383.8 523.2,384.6 525.1,385.4 526.9,386.1 528.8,386.8 530.6,387.5 532.5,388.2 534.4,388.8 536.3,389.4 538.1,390.0 540.0,390.6 541.9,391.1 543.8,391.5 545.7,392.0 547.6,392.4 549.5,392.8 551.4,393.1 553.3,393.4 555.3,393.7 557.2,394.0 559.1,394.2 561.0,394.4 563.0,394.6 564.9,394.7 566.8,394.9 568.8,395.0 570.7,395.1 572.7,395.1 574.6,395.1 576.6,395.2 578.5,395.1 580.5,395.1 582.4,395.1 584.4,395.0 586.4,394.9 588.3,394.8 590.3,394.7 592.2,394.5 594.2,394.3 596.2,394.2 598.1,394.0 600.1,393.8 602.1,393.5 604.0,393.3 606.0,393.1 608.0,392.8 609.9,392.5 611.9,392.2 613.8,391.9 615.8,391.6 617.8,391.3 619.7,391.0 621.7,390.7 623.6,390.3 625.6,390.0 627.5,389.6 629.5,389.2 631.4,388.9 633.4,388.5 635.3,388.1 637.3,387.7 639.2,387.3 641.2,386.9 643.1,386.5 645.0,386.1 647.0,385.7 648.9,385.3 650.9,384.9 652.8,384.5 654.7,384.0 656.7,383.6 658.6,383.2 660.5,382.7 662.5,382.3 664.4,381.9 666.3,381.4 668.3,381.0 670.2,380.6 672.1,380.1 674.1,379.7 676.0,379.2 677.9,378.8 679.9,378.4 681.8,377.9 683.7,377.5 685.7,377.1 687.6,376.6 689.5,376.2 691.4,375.8 693.4,375.3 695.3,374.9 697.2,374.5 699.2,374.1 701.1,373.7 703.0,373.3 705.0,372.9 706.9,372.5 708.8,372.1 710.8,371.7 712.7,371.3 714.7,371.0 716.6,370.6 718.5,370.2 720.5,369.9 722.4,369.5 724.4,369.2 726.3,368.9 728.2,368.6 730.2,368.2 732.1,367.9 734.1,367.6 736.0,367.4 738.0,367.1 739.9,366.8 741.9,366.6 743.8,366.3 745.8,366.1 747.8,365.9 749.7,365.7 751.7,365.5 753.6,365.3 755.6,365.1 757.6,365.0 759.5,364.8 761.5,364.7 763.5,364.6 765.5,364.5 767.4,364.4 769.4,364.3 771.4,364.2 773.4,364.2 775.4,364.2 777.3,364.1 779.3,364.2 781.3,364.2 783.3,364.2 785.3,364.3 787.3,364.3 789.3,364.4 791.3,364.5" fill="none" stroke="#38AD6A" stroke-width="6.7" stroke-linejoin="round"/>
<path d="M153.2,542.1L161.9,556.9L144.6,556.9Z" fill="#B078DE"/>
<path d="M174.5,520.1L183.2,534.9L165.8,534.9Z" fill="#B078DE"/>
<path d="M195.8,450.1L204.5,464.9L187.1,464.9Z" fill="#B078DE"/>
<path d="M217.1,420.1L225.8,434.9L208.4,434.9Z" fill="#B078DE"/>
<path d="M238.3,369.6L247.0,384.4L229.6,384.4Z" fill="#B078DE"/>
<path d="M259.6,317.1L268.3,331.9L250.9,331.9Z" fill="#B078DE"/>
<path d="M280.9,278.1L289.6,292.9L272.2,292.9Z" fill="#B078DE"/>
<path d="M302.1,234.1L310.8,248.9L293.4,248.9Z" fill="#B078DE"/>
<path d="M323.4,214.1L332.1,228.9L314.7,228.9Z" fill="#B078DE"/>
<path d="M344.7,197.6L353.4,212.4L336.0,212.4Z" fill="#B078DE"/>
<path d="M365.9,182.1L374.6,196.9L357.2,196.9Z" fill="#B078DE"/>
<path d="M387.2,187.1L395.9,201.9L378.5,201.9Z" fill="#B078DE"/>
<path d="M408.5,201.1L417.2,215.9L399.8,215.9Z" fill="#B078DE"/>
<path d="M429.8,214.1L438.5,228.9L421.1,228.9Z" fill="#B078DE"/>
<path d="M451.0,230.4L459.7,245.2L442.3,245.2Z" fill="#B078DE"/>
<path d="M472.3,283.8L481.0,298.6L463.6,298.6Z" fill="#B078DE"/>
<path d="M493.6,300.0L502.3,314.8L484.9,314.8Z" fill="#B078DE"/>
<path d="M514.8,322.0L523.5,336.8L506.1,336.8Z" fill="#B078DE"/>
<path d="M536.1,337.1L544.8,351.9L527.4,351.9Z" fill="#B078DE"/>
<path d="M557.4,360.3L566.1,375.1L548.7,375.1Z" fill="#B078DE"/>
<path d="M578.6,362.7L587.4,377.5L569.9,377.5Z" fill="#B078DE"/>
<path d="M599.9,356.9L608.6,371.7L591.2,371.7Z" fill="#B078DE"/>
<path d="M621.2,352.9L629.9,367.7L612.5,367.7Z" fill="#B078DE"/>
<path d="M642.5,352.6L651.2,367.4L633.8,367.4Z" fill="#B078DE"/>
<path d="M663.7,336.9L672.4,351.7L655.0,351.7Z" fill="#B078DE"/>
<path d="M685.0,332.7L693.7,347.5L676.3,347.5Z" fill="#B078DE"/>
<path d="M706.3,315.0L715.0,329.8L697.6,329.8Z" fill="#B078DE"/>
<path d="M727.5,301.4L736.2,316.2L718.8,316.2Z" fill="#B078DE"/>
<path d="M748.8,288.7L757.5,303.5L740.1,303.5Z" fill="#B078DE"/>
<path d="M770.1,284.9L778.8,299.7L761.4,299.7Z" fill="#B078DE"/>
<path d="M153.3,552.8 155.4,551.6 157.4,550.3 159.3,549.0 161.1,547.6 162.9,546.2 164.6,544.7 166.2,543.1 167.8,541.5 169.3,539.8 170.8,538.1 172.2,536.3 173.5,534.5 174.8,532.6 176.1,530.7 177.3,528.8 178.5,526.8 179.6,524.8 180.7,522.7 181.8,520.7 182.8,518.6 183.8,516.5 184.8,514.4 185.8,512.2 186.8,510.1 187.7,508.0 188.7,505.8 189.6,503.6 190.5,501.5 191.4,499.3 192.4,497.2 193.3,495.0 194.2,492.9 195.1,490.8 196.0,488.6 197.0,486.5 197.9,484.4 198.8,482.3 199.7,480.2 200.7,478.1 201.6,476.0 202.5,473.8 203.4,471.7 204.3,469.6 205.2,467.5 206.1,465.4 207.0,463.3 207.9,461.2 208.8,459.0 209.7,456.9 210.6,454.8 211.5,452.7 212.4,450.5 213.2,448.4 214.1,446.3 215.0,444.1 215.9,442.0 216.8,439.9 217.6,437.7 218.5,435.6 219.4,433.5 220.3,431.3 221.2,429.2 222.1,427.0 223.0,424.9 223.9,422.8 224.8,420.7 225.7,418.5 226.6,416.4 227.6,414.3 228.5,412.2 229.4,410.0 230.4,407.9 231.3,405.8 232.3,403.7 233.3,401.6 234.3,399.5 235.2,397.4 236.3,395.4 237.3,393.3 238.3,391.2 239.3,389.1 240.3,387.0 241.3,385.0 242.3,382.9 243.3,380.8 244.3,378.7 245.3,376.6 246.3,374.5 247.2,372.4 248.1,370.3 249.1,368.2 250.0,366.0 250.8,363.9 251.7,361.8 252.6,359.6 253.4,357.5 254.2,355.3 255.1,353.1 255.9,351.0 256.7,348.8 257.6,346.6 258.4,344.5 259.2,342.3 260.1,340.2 260.9,338.0 261.8,335.9 262.7,333.7 263.6,331.6 264.5,329.5 265.4,327.4 266.4,325.3 267.4,323.2 268.4,321.1 269.4,319.1 270.5,317.0 271.6,315.0 272.7,312.9 273.9,310.9 275.0,308.9 276.2,306.9 277.4,304.9 278.5,302.9 279.7,300.9 280.9,298.9 282.0,296.9 283.1,294.8 284.2,292.8 285.3,290.8 286.3,288.7 287.3,286.6 288.3,284.5 289.2,282.5 290.2,280.4 291.1,278.2 292.0,276.1 292.9,274.0 293.8,271.9 294.8,269.8 295.7,267.7 296.6,265.5 297.5,263.4 298.5,261.3 299.4,259.2 300.4,257.1 301.4,255.0 302.4,253.0 303.5,250.9 304.6,248.9 305.7,246.8 306.9,244.8 308.1,242.8 309.3,240.8 310.6,238.9 311.9,236.9 313.3,235.0 314.6,233.1 316.1,231.3 317.5,229.5 319.0,227.7 320.6,225.9 322.1,224.2 323.7,222.5 325.4,220.9 327.1,219.3 328.8,217.7 330.6,216.2 332.4,214.8 334.2,213.4 336.1,212.0 338.0,210.7 340.0,209.5 342.0,208.3 344.0,207.2 346.1,206.1 348.2,205.1 350.4,204.2 352.6,203.3 354.8,202.6 357.0,201.9 359.3,201.2 361.5,200.7 363.8,200.2 366.1,199.9 368.4,199.6 370.7,199.4 372.9,199.4 375.2,199.4 377.5,199.6 379.7,199.8 382.0,200.2 384.2,200.7 386.3,201.3 388.5,202.0 390.6,202.9 392.7,203.8 394.8,204.8 396.8,205.9 398.9,207.0 401.0,208.2 403.0,209.3 405.0,210.5 407.1,211.6 409.1,212.8 411.1,214.0 413.1,215.1 415.1,216.3 417.1,217.5 419.0,218.7 421.0,219.9 422.8,221.2 424.7,222.5 426.5,223.9 428.2,225.3 430.0,226.8 431.6,228.3 433.2,229.8 434.8,231.4 436.4,233.1 438.1,234.7 439.7,236.3 441.4,237.9 443.1,239.4 444.8,241.0 446.6,242.5 448.4,244.0 450.2,245.5 452.0,247.0 453.9,248.5 455.7,250.0 457.5,251.6 459.3,253.1 461.0,254.6 462.8,256.2 464.5,257.8 466.1,259.4 467.8,261.1 469.4,262.8 470.9,264.5 472.4,266.2 473.9,267.9 475.4,269.7 476.9,271.4 478.3,273.2 479.7,275.0 481.1,276.8 482.5,278.7 483.9,280.5 485.2,282.3 486.6,284.2 487.9,286.0 489.2,287.9 490.6,289.8 491.9,291.6 493.3,293.5 494.6,295.3 496.0,297.2 497.3,299.0 498.7,300.9 500.1,302.7 501.5,304.5 502.9,306.3 504.4,308.1 505.8,309.9 507.3,311.7 508.8,313.4 510.4,315.2 512.0,316.9 513.6,318.6 515.2,320.3 516.9,321.9 518.6,323.6 520.3,325.2 522.0,326.8 523.8,328.3 525.5,329.9 527.4,331.4 529.2,332.9 531.0,334.3 532.9,335.8 534.8,337.2 536.7,338.5 538.7,339.9 540.6,341.2 542.6,342.5 544.6,343.8 546.6,345.0 548.6,346.2 550.6,347.3 552.7,348.4 554.8,349.5 556.9,350.6 559.0,351.6 561.1,352.6 563.2,353.5 565.3,354.4 567.5,355.3 569.6,356.1 571.8,356.9 574.0,357.6 576.2,358.3 578.4,359.0 580.6,359.6 582.8,360.2 585.0,360.7 587.2,361.2 589.4,361.6 591.7,362.0 593.9,362.3 596.2,362.6 598.4,362.9 600.7,363.1 602.9,363.2 605.2,363.3 607.4,363.3 609.7,363.3 611.9,363.3 614.2,363.2 616.4,363.0 618.7,362.9 620.9,362.6 623.2,362.3 625.5,362.0 627.7,361.7 630.0,361.3 632.2,360.9 634.5,360.4 636.7,359.9 638.9,359.3 641.2,358.8 643.4,358.2 645.7,357.5 647.9,356.9 650.1,356.2 652.4,355.5 654.6,354.7 656.8,353.9 659.0,353.1 661.2,352.3 663.4,351.5 665.6,350.6 667.8,349.7 670.0,348.8 672.2,347.9 674.4,347.0 676.6,346.0 678.7,345.0 680.9,344.1 683.0,343.1 685.2,342.1 687.3,341.0 689.4,340.0 691.6,339.0 693.7,337.9 695.8,336.9 697.9,335.8 700.0,334.8 702.0,333.7 704.1,332.6 706.2,331.6 708.2,330.5 710.3,329.5 712.3,328.4 714.4,327.3 716.4,326.3 718.4,325.2 720.5,324.2 722.5,323.1 724.5,322.1 726.6,321.1 728.6,320.0 730.6,319.0 732.7,318.0 734.7,317.0 736.7,316.0 738.8,315.1 740.8,314.1 742.9,313.2 744.9,312.3 747.0,311.3 749.1,310.4 751.2,309.6 753.3,308.7 755.4,307.9 757.5,307.0 759.7,306.2 761.8,305.5 764.0,304.7 766.2,304.0 768.3,303.3 770.6,302.6 772.8,301.9 775.0,301.3 777.3,300.7 779.6,300.1 781.9,299.6 784.2,299.1 786.6,298.6 788.9,298.1 791.3,297.7" fill="none" stroke="#B078DE" stroke-width="6.7" stroke-linejoin="round"/>
<circle cx="153.2" cy="551.5" r="7.5" fill="#CF9B05"/>
<circle cx="174.5" cy="518.5" r="7.5" fill="#CF9B05"/>
<circle cx="195.8" cy="446.0" r="7.5" fill="#CF9B05"/>
<circle cx="217.1" cy="396.0" r="7.5" fill="#CF9B05"/>
<circle cx="238.3" cy="323.5" r="7.5" fill="#CF9B05"/>
<circle cx="259.6" cy="222.7" r="7.5" fill="#CF9B05"/>
<circle cx="280.9" cy="156.0" r="7.5" fill="#CF9B05"/>
<circle cx="302.1" cy="132.7" r="7.5" fill="#CF9B05"/>
<circle cx="323.4" cy="79.3" r="7.5" fill="#CF9B05"/>
<circle cx="344.7" cy="35.0" r="7.5" fill="#CF9B05"/>
<circle cx="365.9" cy="58.0" r="7.5" fill="#CF9B05"/>
<circle cx="387.2" cy="71.0" r="7.5" fill="#CF9B05"/>
<circle cx="408.5" cy="81.3" r="7.5" fill="#CF9B05"/>
<circle cx="429.8" cy="89.5" r="7.5" fill="#CF9B05"/>
<circle cx="451.0" cy="134.0" r="7.5" fill="#CF9B05"/>
<circle cx="472.3" cy="174.3" r="7.5" fill="#CF9B05"/>
<circle cx="493.6" cy="209.8" r="7.5" fill="#CF9B05"/>
<circle cx="514.8" cy="231.5" r="7.5" fill="#CF9B05"/>
<circle cx="536.1" cy="288.0" r="7.5" fill="#CF9B05"/>
<circle cx="557.4" cy="311.6" r="7.5" fill="#CF9B05"/>
<circle cx="578.6" cy="318.6" r="7.5" fill="#CF9B05"/>
<circle cx="599.9" cy="321.8" r="7.5" fill="#CF9B05"/>
<circle cx="621.2" cy="315.0" r="7.5" fill="#CF9B05"/>
<circle cx="642.5" cy="311.5" r="7.5" fill="#CF9B05"/>
<circle cx="663.7" cy="281.0" r="7.5" fill="#CF9B05"/>
<circle cx="685.0" cy="253.4" r="7.5" fill="#CF9B05"/>
<circle cx="706.3" cy="240.6" r="7.5" fill="#CF9B05"/>
<circle cx="727.5" cy="227.8" r="7.5" fill="#CF9B05"/>
<circle cx="748.8" cy="187.5" r="7.5" fill="#CF9B05"/>
<circle cx="770.1" cy="188.5" r="7.5" fill="#CF9B05"/>
<path d="M153.3,552.8 155.2,550.6 157.1,548.4 158.9,546.1 160.6,543.8 162.3,541.5 163.9,539.1 165.5,536.6 167.0,534.2 168.5,531.7 169.9,529.2 171.3,526.6 172.6,524.0 173.9,521.4 175.2,518.8 176.4,516.1 177.6,513.5 178.8,510.8 180.0,508.1 181.1,505.4 182.2,502.7 183.3,499.9 184.4,497.2 185.5,494.5 186.6,491.8 187.6,489.1 188.7,486.3 189.7,483.6 190.7,480.9 191.8,478.1 192.8,475.4 193.8,472.6 194.7,469.9 195.7,467.1 196.7,464.4 197.7,461.6 198.6,458.9 199.5,456.1 200.5,453.4 201.4,450.6 202.3,447.8 203.2,445.1 204.1,442.3 205.0,439.5 205.9,436.8 206.8,434.0 207.7,431.2 208.6,428.4 209.4,425.7 210.3,422.9 211.2,420.1 212.0,417.3 212.9,414.5 213.7,411.7 214.5,408.9 215.4,406.2 216.2,403.4 217.0,400.6 217.9,397.8 218.7,395.0 219.5,392.2 220.3,389.4 221.1,386.6 221.9,383.8 222.7,381.0 223.5,378.2 224.3,375.4 225.1,372.6 225.9,369.8 226.7,367.0 227.5,364.1 228.3,361.3 229.1,358.5 229.9,355.7 230.7,352.9 231.5,350.1 232.3,347.3 233.0,344.5 233.8,341.7 234.6,338.9 235.4,336.0 236.2,333.2 237.0,330.4 237.7,327.6 238.5,324.8 239.3,322.0 240.1,319.2 240.9,316.4 241.7,313.5 242.5,310.7 243.2,307.9 244.0,305.1 244.8,302.3 245.6,299.5 246.4,296.7 247.2,293.9 248.0,291.1 248.8,288.3 249.6,285.4 250.4,282.6 251.2,279.8 252.0,277.0 252.8,274.2 253.7,271.4 254.5,268.6 255.3,265.8 256.1,263.0 256.9,260.2 257.8,257.4 258.6,254.6 259.5,251.8 260.3,249.0 261.1,246.3 262.0,243.5 262.8,240.7 263.7,237.9 264.6,235.1 265.4,232.3 266.3,229.5 267.2,226.8 268.1,224.0 269.0,221.2 269.9,218.4 270.8,215.7 271.7,212.9 272.6,210.1 273.5,207.4 274.4,204.6 275.3,201.8 276.3,199.1 277.2,196.3 278.2,193.6 279.1,190.8 280.1,188.1 281.1,185.3 282.0,182.6 283.0,179.8 284.0,177.1 285.0,174.4 286.0,171.6 287.0,168.9 288.0,166.2 289.1,163.4 290.1,160.7 291.1,158.0 292.1,155.3 293.1,152.5 294.1,149.8 295.2,147.1 296.2,144.3 297.2,141.6 298.2,138.8 299.1,136.1 300.1,133.3 301.1,130.6 302.0,127.8 303.0,125.1 303.9,122.3 304.9,119.5 305.8,116.8 306.8,114.0 307.8,111.3 308.8,108.5 309.8,105.8 310.9,103.1 311.9,100.3 313.1,97.6 314.3,94.9 315.5,92.3 316.8,89.6 318.1,87.0 319.5,84.4 321.0,81.8 322.6,79.3 324.2,76.8 326.0,74.3 327.8,71.9 329.7,69.5 331.6,67.2 333.7,65.0 335.8,62.9 338.1,60.9 340.4,59.1 342.7,57.3 345.2,55.8 347.7,54.4 350.3,53.1 353.0,52.1 355.8,51.2 358.5,50.5 361.4,50.0 364.3,49.7 367.1,49.5 370.0,49.5 372.9,49.7 375.8,50.0 378.7,50.5 381.5,51.2 384.3,52.0 387.0,52.9 389.7,54.0 392.3,55.3 394.8,56.6 397.2,58.1 399.6,59.7 401.9,61.5 404.1,63.3 406.3,65.2 408.4,67.3 410.4,69.4 412.4,71.5 414.4,73.8 416.2,76.1 418.1,78.4 419.9,80.8 421.6,83.2 423.3,85.7 425.0,88.1 426.6,90.6 428.2,93.1 429.8,95.6 431.3,98.1 432.8,100.6 434.3,103.1 435.8,105.6 437.3,108.1 438.7,110.6 440.1,113.1 441.5,115.6 443.0,118.1 444.4,120.7 445.8,123.2 447.2,125.7 448.6,128.3 450.0,130.8 451.4,133.4 452.8,135.9 454.2,138.5 455.6,141.0 457.0,143.6 458.4,146.2 459.8,148.7 461.2,151.3 462.6,153.9 464.0,156.4 465.4,159.0 466.8,161.6 468.2,164.1 469.6,166.7 471.0,169.3 472.4,171.9 473.7,174.4 475.1,177.0 476.5,179.6 477.9,182.2 479.3,184.7 480.7,187.3 482.0,189.9 483.4,192.4 484.8,195.0 486.2,197.6 487.6,200.1 489.0,202.7 490.4,205.2 491.8,207.8 493.2,210.3 494.6,212.9 496.0,215.4 497.4,218.0 498.8,220.5 500.3,223.0 501.7,225.5 503.2,228.0 504.7,230.5 506.1,233.0 507.6,235.5 509.1,238.0 510.7,240.5 512.2,243.0 513.7,245.4 515.3,247.9 516.9,250.3 518.5,252.8 520.1,255.2 521.7,257.6 523.4,260.1 525.0,262.5 526.7,264.8 528.4,267.2 530.2,269.6 532.0,271.9 533.8,274.2 535.6,276.5 537.5,278.8 539.4,281.0 541.3,283.1 543.3,285.3 545.4,287.3 547.5,289.3 549.6,291.3 551.8,293.2 554.1,295.1 556.4,296.8 558.8,298.5 561.3,300.2 563.8,301.7 566.3,303.2 568.9,304.6 571.6,305.9 574.3,307.1 577.0,308.2 579.7,309.2 582.5,310.1 585.3,310.9 588.1,311.6 591.0,312.2 593.8,312.6 596.6,313.0 599.5,313.2 602.3,313.3 605.1,313.2 608.0,313.1 610.8,312.8 613.5,312.3 616.3,311.7 619.0,311.0 621.7,310.1 624.4,309.1 627.0,307.9 629.6,306.7 632.2,305.3 634.8,303.8 637.3,302.2 639.8,300.6 642.3,298.9 644.7,297.1 647.1,295.2 649.5,293.3 651.8,291.4 654.2,289.4 656.5,287.4 658.8,285.4 661.0,283.4 663.2,281.4 665.4,279.4 667.6,277.4 669.8,275.4 671.9,273.5 674.0,271.5 676.2,269.6 678.2,267.7 680.3,265.7 682.4,263.7 684.5,261.8 686.5,259.8 688.6,257.8 690.6,255.8 692.7,253.7 694.7,251.7 696.8,249.7 698.8,247.6 700.9,245.6 703.0,243.6 705.1,241.5 707.2,239.5 709.3,237.5 711.4,235.4 713.5,233.4 715.6,231.4 717.8,229.4 719.9,227.4 722.1,225.4 724.3,223.5 726.5,221.5 728.7,219.6 731.0,217.7 733.2,215.8 735.5,214.0 737.8,212.2 740.1,210.4 742.4,208.6 744.7,206.9 747.1,205.2 749.5,203.5 751.9,201.9 754.4,200.3 756.8,198.7 759.3,197.2 761.8,195.8 764.4,194.4 766.9,193.0 769.5,191.7 772.1,190.4 774.8,189.2 777.5,188.1 780.2,187.0 782.9,185.9 785.7,185.0 788.5,184.0 791.3,183.2" fill="none" stroke="#E6AA32" stroke-width="6.7" stroke-linejoin="round"/></g>
<g><rect x="100.0" y="4.6" width="744.0" height="597.9" fill="none" stroke="#000" stroke-width="6.8"/>
<rect x="150.00" y="590.9" width="6.5" height="9.2" fill="#000"/>
<rect x="150.00" y="7.0" width="6.5" height="9.2" fill="#000"/>
<rect x="256.36" y="590.9" width="6.5" height="9.2" fill="#000"/>
<rect x="256.36" y="7.0" width="6.5" height="9.2" fill="#000"/>
<rect x="362.72" y="590.9" width="6.5" height="9.2" fill="#000"/>
<rect x="362.72" y="7.0" width="6.5" height="9.2" fill="#000"/>
<rect x="469.08" y="590.9" width="6.5" height="9.2" fill="#000"/>
<rect x="469.08" y="7.0" width="6.5" height="9.2" fill="#000"/>
<rect x="575.44" y="590.9" width="6.5" height="9.2" fill="#000"/>
<rect x="575.44" y="7.0" width="6.5" height="9.2" fill="#000"/>
<rect x="681.80" y="590.9" width="6.5" height="9.2" fill="#000"/>
<rect x="681.80" y="7.0" width="6.5" height="9.2" fill="#000"/>
<rect x="788.16" y="590.9" width="6.5" height="9.2" fill="#000"/>
<rect x="788.16" y="7.0" width="6.5" height="9.2" fill="#000"/>
<rect x="102.4" y="549.50" width="9.2" height="6.5" fill="#000"/>
<rect x="832.4" y="549.50" width="9.2" height="6.5" fill="#000"/>
<rect x="102.4" y="449.80" width="9.2" height="6.5" fill="#000"/>
<rect x="832.4" y="449.80" width="9.2" height="6.5" fill="#000"/>
<rect x="102.4" y="350.10" width="9.2" height="6.5" fill="#000"/>
<rect x="832.4" y="350.10" width="9.2" height="6.5" fill="#000"/>
<rect x="102.4" y="250.40" width="9.2" height="6.5" fill="#000"/>
<rect x="832.4" y="250.40" width="9.2" height="6.5" fill="#000"/>
<rect x="102.4" y="150.70" width="9.2" height="6.5" fill="#000"/>
<rect x="832.4" y="150.70" width="9.2" height="6.5" fill="#000"/>
<rect x="102.4" y="51.00" width="9.2" height="6.5" fill="#000"/>
<rect x="832.4" y="51.00" width="9.2" height="6.5" fill="#000"/></g>
<g font-size="40"><text x="87.8" y="566.0" text-anchor="end" transform="translate(0,566.0) scale(1,1.07) translate(0,-566.0)">0.0</text>
<text x="87.8" y="466.4" text-anchor="end" transform="translate(0,466.4) scale(1,1.07) translate(0,-466.4)">0.1</text>
<text x="87.8" y="366.7" text-anchor="end" transform="translate(0,366.7) scale(1,1.07) translate(0,-366.7)">0.2</text>
<text x="87.8" y="266.9" text-anchor="end" transform="translate(0,266.9) scale(1,1.07) translate(0,-266.9)">0.3</text>
<text x="87.8" y="167.2" text-anchor="end" transform="translate(0,167.2) scale(1,1.07) translate(0,-167.2)">0.4</text>
<text x="87.8" y="67.5" text-anchor="end" transform="translate(0,67.5) scale(1,1.07) translate(0,-67.5)">0.5</text>
<text x="153.55" y="646.8" text-anchor="middle" transform="translate(0,646.8) scale(1,1.07) translate(0,-646.8)">0</text>
<text x="259.91" y="646.8" text-anchor="middle" transform="translate(0,646.8) scale(1,1.07) translate(0,-646.8)">1</text>
<text x="366.27" y="646.8" text-anchor="middle" transform="translate(0,646.8) scale(1,1.07) translate(0,-646.8)">2</text>
<text x="472.63" y="646.8" text-anchor="middle" transform="translate(0,646.8) scale(1,1.07) translate(0,-646.8)">3</text>
<text x="578.99" y="646.8" text-anchor="middle" transform="translate(0,646.8) scale(1,1.07) translate(0,-646.8)">4</text>
<text x="685.35" y="646.8" text-anchor="middle" transform="translate(0,646.8) scale(1,1.07) translate(0,-646.8)">5</text>
<text x="791.71" y="646.8" text-anchor="middle" transform="translate(0,646.8) scale(1,1.07) translate(0,-646.8)">6</text>
<text x="480.5" y="683.8" text-anchor="middle" transform="translate(480.5,0) scale(0.985,1) translate(-480.5,0)">Time [ns]</text>
<text transform="translate(27.8,319.8) rotate(-90) scale(0.98,1.04)" text-anchor="middle"><tspan font-style="italic">v</tspan> [m/s]</text></g>
<g><circle cx="543.5" cy="31.5" r="7.5" fill="#CF9B05"/>
<text x="579.2" y="40.2" font-size="25.5" transform="translate(0,40.2) scale(1,1.05) translate(0,-40.2)">E=1.0 MV/cm</text>
<path d="M543.5,53.8L552.2,68.6L534.8,68.6Z" fill="#B078DE"/>
<text x="579.2" y="72.4" font-size="25.5" transform="translate(0,72.4) scale(1,1.05) translate(0,-72.4)">E=0.8 MV/cm</text>
<polygon points="543.5,87.6 551.4,93.3 548.4,102.6 538.6,102.6 535.6,93.3" fill="#38AD6A"/>
<text x="579.2" y="104.6" font-size="25.5" transform="translate(0,104.6) scale(1,1.05) translate(0,-104.6)">E=0.6 MV/cm</text>
<path d="M553.5,128.1L538.5,119.3L538.5,137.0Z" fill="#1A6CE0"/>
<text x="579.2" y="136.8" font-size="25.5" transform="translate(0,136.8) scale(1,1.05) translate(0,-136.8)">E=0.4 MV/cm</text>
<polygon points="543.5,152.0 545.6,157.4 551.4,157.7 546.9,161.4 548.4,167.0 543.5,163.9 538.6,167.0 540.1,161.4 535.6,157.7 541.4,157.4" fill="#EE3C3E"/>
<text x="579.2" y="169.0" font-size="25.5" transform="translate(0,169.0) scale(1,1.05) translate(0,-169.0)">E=0.3 MV/cm</text>
<rect x="537.1" y="186.2" width="12.7" height="12.7" fill="#636363"/>
<text x="579.2" y="201.2" font-size="25.5" transform="translate(0,201.2) scale(1,1.05) translate(0,-201.2)">E=0.2 MV/cm</text></g>
</svg>
</body></html>
